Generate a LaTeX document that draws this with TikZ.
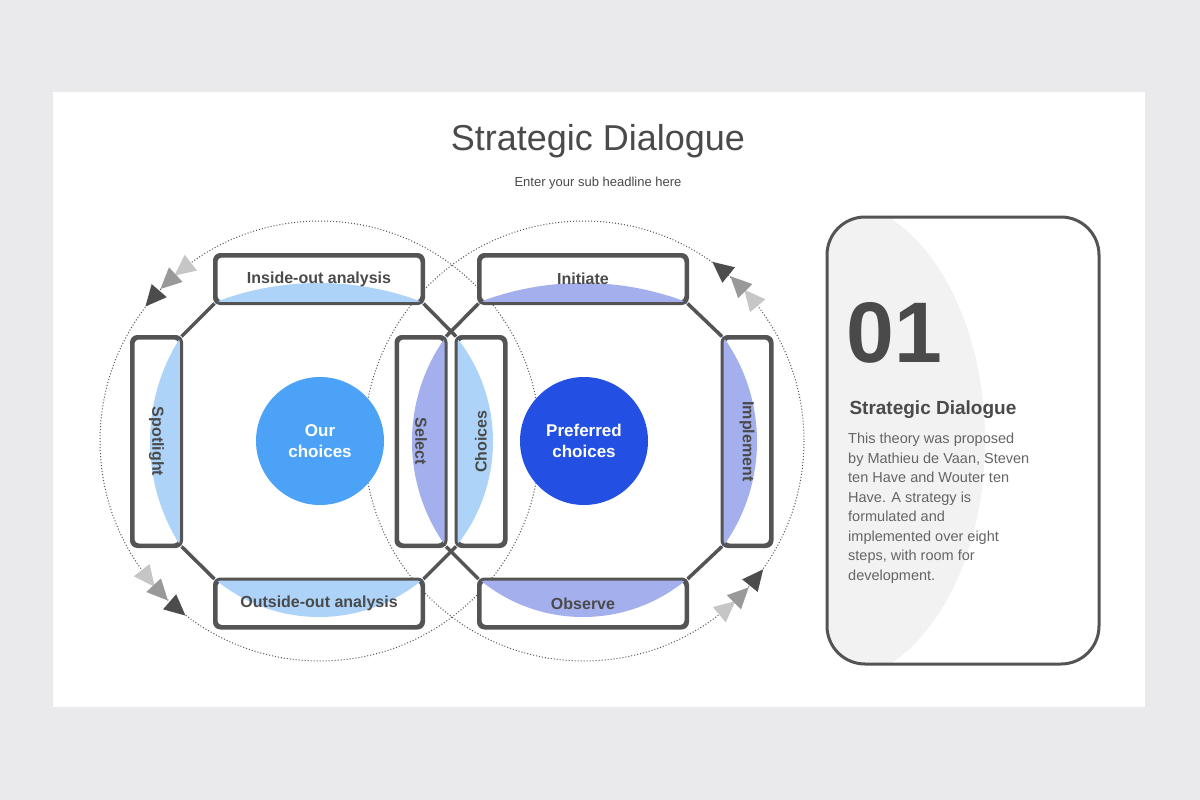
\documentclass[tikz,border=0pt]{standalone}
\usepackage{fontspec}
\setmainfont{Liberation Sans}
\usetikzlibrary{positioning}
\definecolor{pagebg}{HTML}{EAE9EB}
\definecolor{frame}{HTML}{545454}
\definecolor{txt}{HTML}{4A4A4A}
\definecolor{lightblue}{HTML}{AED3F8}
\definecolor{lilac}{HTML}{A4B0EE}
\definecolor{ourblue}{HTML}{4BA2F6}
\definecolor{prefblue}{HTML}{2350E2}
\definecolor{panelgray}{HTML}{F2F2F2}

\newcommand{\arrowtri}[4]{% center, radius, angle, colour
  \begin{scope}[shift={#1},rotate=-#3]
    \fill[#4] (#2,-13) -- (#2-10,8) -- (#2+10,8) -- cycle;
  \end{scope}}

\begin{document}
\begin{tikzpicture}[x=1pt,y=-1pt,
    font=\fontsize{16}{18}\selectfont\bfseries,
    % styles
    stagebox/.style={draw=frame, line width=3pt, rounded corners=6pt,
        fill=white, inner sep=0pt, text=txt},
    wide box/.style={stagebox, minimum width=206pt, minimum height=46pt},
    tall box/.style={stagebox, minimum width=47pt, minimum height=207pt},
    hub/.style={circle, minimum size=128pt, inner sep=0pt, text=white,
        align=center, font=\fontsize{17}{21}\selectfont\bfseries},
    link/.style={draw=frame, line width=3.5pt},
    orbit/.style={draw=frame, line width=1pt, dotted}
]
\useasboundingbox (0,0) rectangle (1200,800);
\fill[pagebg] (0,0) rectangle (1200,800);
\fill[white] (53,92) rectangle (1145,707);

% --- title ---
\node[text=txt, font=\fontsize{36}{40}\selectfont] (title) at (598,141) {Strategic Dialogue};
\node[text=txt, font=\fontsize{13}{15}\selectfont, below=12pt of title] (sub) {Enter your sub headline here};

% --- dotted orbits ---
\coordinate (lc) at (320,441);
\coordinate (rc) at (584,441);
\draw[orbit] (lc) circle (220);
\draw[orbit] (rc) circle (220);

% --- orbit arrows ---
\arrowtri{(lc)}{220}{232}{gray!45}
\arrowtri{(lc)}{220}{227}{gray!80}
\arrowtri{(lc)}{220}{221}{black!70}
\arrowtri{(lc)}{220}{142}{gray!45}
\arrowtri{(lc)}{220}{137}{gray!80}
\arrowtri{(lc)}{220}{131}{black!70}
\arrowtri{(rc)}{220}{320}{gray!45}
\arrowtri{(rc)}{220}{315}{gray!80}
\arrowtri{(rc)}{220}{309}{black!70}
\arrowtri{(rc)}{220}{50}{gray!45}
\arrowtri{(rc)}{220}{45}{gray!80}
\arrowtri{(rc)}{220}{39}{black!70}

% --- boxes ---
\node[wide box] (inside) at (319,279) {};
\node[wide box] (outside) at (319,603.5) {};
\node[tall box] (spot) at (156.5,441.5) {};
\node[tall box] (select) at (421,441.5) {};
\node[tall box] (choice) at (481,441.5) {};
\node[wide box] (init) at (583,279) {};
\node[wide box] (observe) at (583,603.5) {};
\node[tall box] (impl) at (747,441.5) {};

% --- octagon links ---
\draw[link] (inside.south west) -- (spot.north east);
\draw[link] (spot.south east) -- (outside.north west);
\draw[link] (inside.south east) -- (choice.north west);
\draw[link] (choice.south west) -- (outside.north east);
\draw[link] (init.south west) -- (select.north east);
\draw[link] (select.south east) -- (observe.north west);
\draw[link] (init.south east) -- (impl.north west);
\draw[link] (impl.south west) -- (observe.north east);

% --- tinted arcs inside boxes ---
\foreach \b/\c/\r/\col in {inside/{(319,572)}/289/lightblue, outside/{(319,455)}/162/lightblue,
    spot/{(343.5,441.5)}/193.5/lightblue, choice/{(326,441.5)}/167/lightblue,
    init/{(583,572)}/289/lilac, observe/{(583,455)}/162/lilac,
    select/{(591,441.5)}/179/lilac, impl/{(578,441.5)}/179/lilac}{
  \begin{scope}
    \clip (\b.south west) rectangle (\b.north east);
    \fill[\col] \c circle (\r);
  \end{scope}}

% --- box outlines and labels ---
\foreach \b in {inside,outside,spot,select,choice,init,observe,impl}
  \draw[draw=frame, line width=3pt, rounded corners=6pt] (\b.south west) rectangle (\b.north east);
\node[text=txt] at (inside) {Inside-out analysis};
\node[text=txt] at (outside) {Outside-out analysis};
\node[text=txt] at (init) {Initiate};
\node[text=txt] at (observe) {Observe};
\node[text=txt, rotate=-90] at (spot) {Spotlight};
\node[text=txt, rotate=-90] at (select) {Select};
\node[text=txt, rotate=90] at (choice) {Choices};
\node[text=txt, rotate=-90] at (impl) {Implement};

% --- hubs ---
\node[hub, fill=ourblue] (ours) at (lc) {Our\\choices};
\node[hub, fill=prefblue] (pref) at (rc) {Preferred\\choices};

% --- side panel ---
\begin{scope}
  \clip[rounded corners=38pt] (827,217) rectangle (1099,664);
  \fill[panelgray] (830,441) ellipse [x radius=155, y radius=242];
\end{scope}
\draw[draw=frame, line width=3pt, rounded corners=38pt] (827,217) rectangle (1099,664);
\node[anchor=west, text=txt, font=\fontsize{86}{90}\selectfont\bfseries] (num) at (843,333) {01};
\node[anchor=west, text=txt, font=\fontsize{19}{22}\selectfont\bfseries] (ptitle) at (846,410) {Strategic Dialogue};
\node[anchor=north west, text=txt!85, font=\fontsize{14.5}{19.5}\selectfont, align=left, inner sep=0pt] (pbody) at (848,433)
  {This theory was proposed\\by Mathieu de Vaan, Steven\\ten Have and Wouter ten\\Have. A strategy is\\formulated and\\implemented over eight\\steps, with room for\\development.};
\end{tikzpicture}
\end{document}
